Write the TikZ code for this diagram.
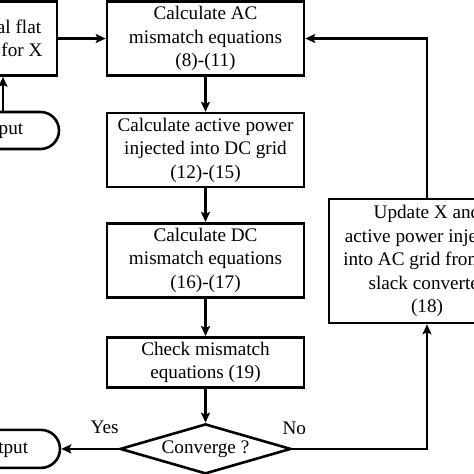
\documentclass[tikz,border=0pt]{standalone}
\usepackage{fontspec}
\setmainfont{Liberation Serif}
\usetikzlibrary{arrows.meta,positioning,shapes.geometric,shapes.misc}

\begin{document}
\begin{tikzpicture}[x=1pt, y=-1pt,
    every node/.style={font=\fontsize{19.2}{23.5}\selectfont},
    box/.style={draw, line width=2.6pt, align=center, inner sep=0pt, minimum width=197pt, minimum height=74pt},
    term/.style={draw, line width=2.6pt, rounded rectangle, inner sep=0pt, minimum height=37pt},
    dec/.style={draw, line width=2.6pt, diamond, aspect=3.4, inner sep=0pt, minimum width=171pt, minimum height=50pt},
    lbl/.style={inner sep=0pt},
    flow/.style={line width=2.6pt, -{Stealth[length=10pt,width=9pt,inset=2pt]}}]
  \useasboundingbox (0,0) rectangle (474,474);
  \clip (0,0) rectangle (474,474);
  % main column
  \node[box] (ac) at (205.5,38.5) {Calculate AC\\mismatch equations\\(8)-(11)};
  \node[box, below=35pt of ac] (pw) {Calculate active power\\injected into DC grid\\(12)-(15)};
  \node[box, below=33.5pt of pw] (dc) {Calculate DC\\mismatch equations\\(16)-(17)};
  \node[box, below=37.5pt of dc, minimum height=50pt] (chk) {Check mismatch\\equations (19)};
  \node[dec, below=34pt of chk] (conv) {Converge ?};
  % left side (cut by the frame)
  \node[box, minimum width=108pt] (init) at (3,38.5) {Initial flat\\start for X};
  \node[term, minimum width=112pt] (inp) at (3,130.5) {Input};
  \node[term, minimum width=117pt, minimum height=38pt] (outp) at (conv.west -| 1.5,0) {Output};
  % right side
  \node[box, minimum width=196pt, minimum height=124pt] (upd) at (427,261) {Update X and\\active power injected\\into AC grid from the\\slack converter\\(18)};
  \node[lbl, anchor=base east] (yes) at ([yshift=15pt]conv.west) {Yes};
  \node[lbl, anchor=base west] (no) at ([xshift=-10pt,yshift=14pt]conv.east) {No};
  % connectors
  \draw[flow] (inp.north) -- (init.south);
  \draw[flow] (init.east) -- (ac.west);
  \draw[flow] (ac) -- (pw);
  \draw[flow] (pw) -- (dc);
  \draw[flow] (dc) -- (chk);
  \draw[flow] (chk) -- (conv);
  \draw[flow] (conv.west) -- (outp.east);
  \draw[flow] (conv.east) -| (upd.south);
  \draw[flow] (upd.north) |- (ac.east);
\end{tikzpicture}
\end{document}
